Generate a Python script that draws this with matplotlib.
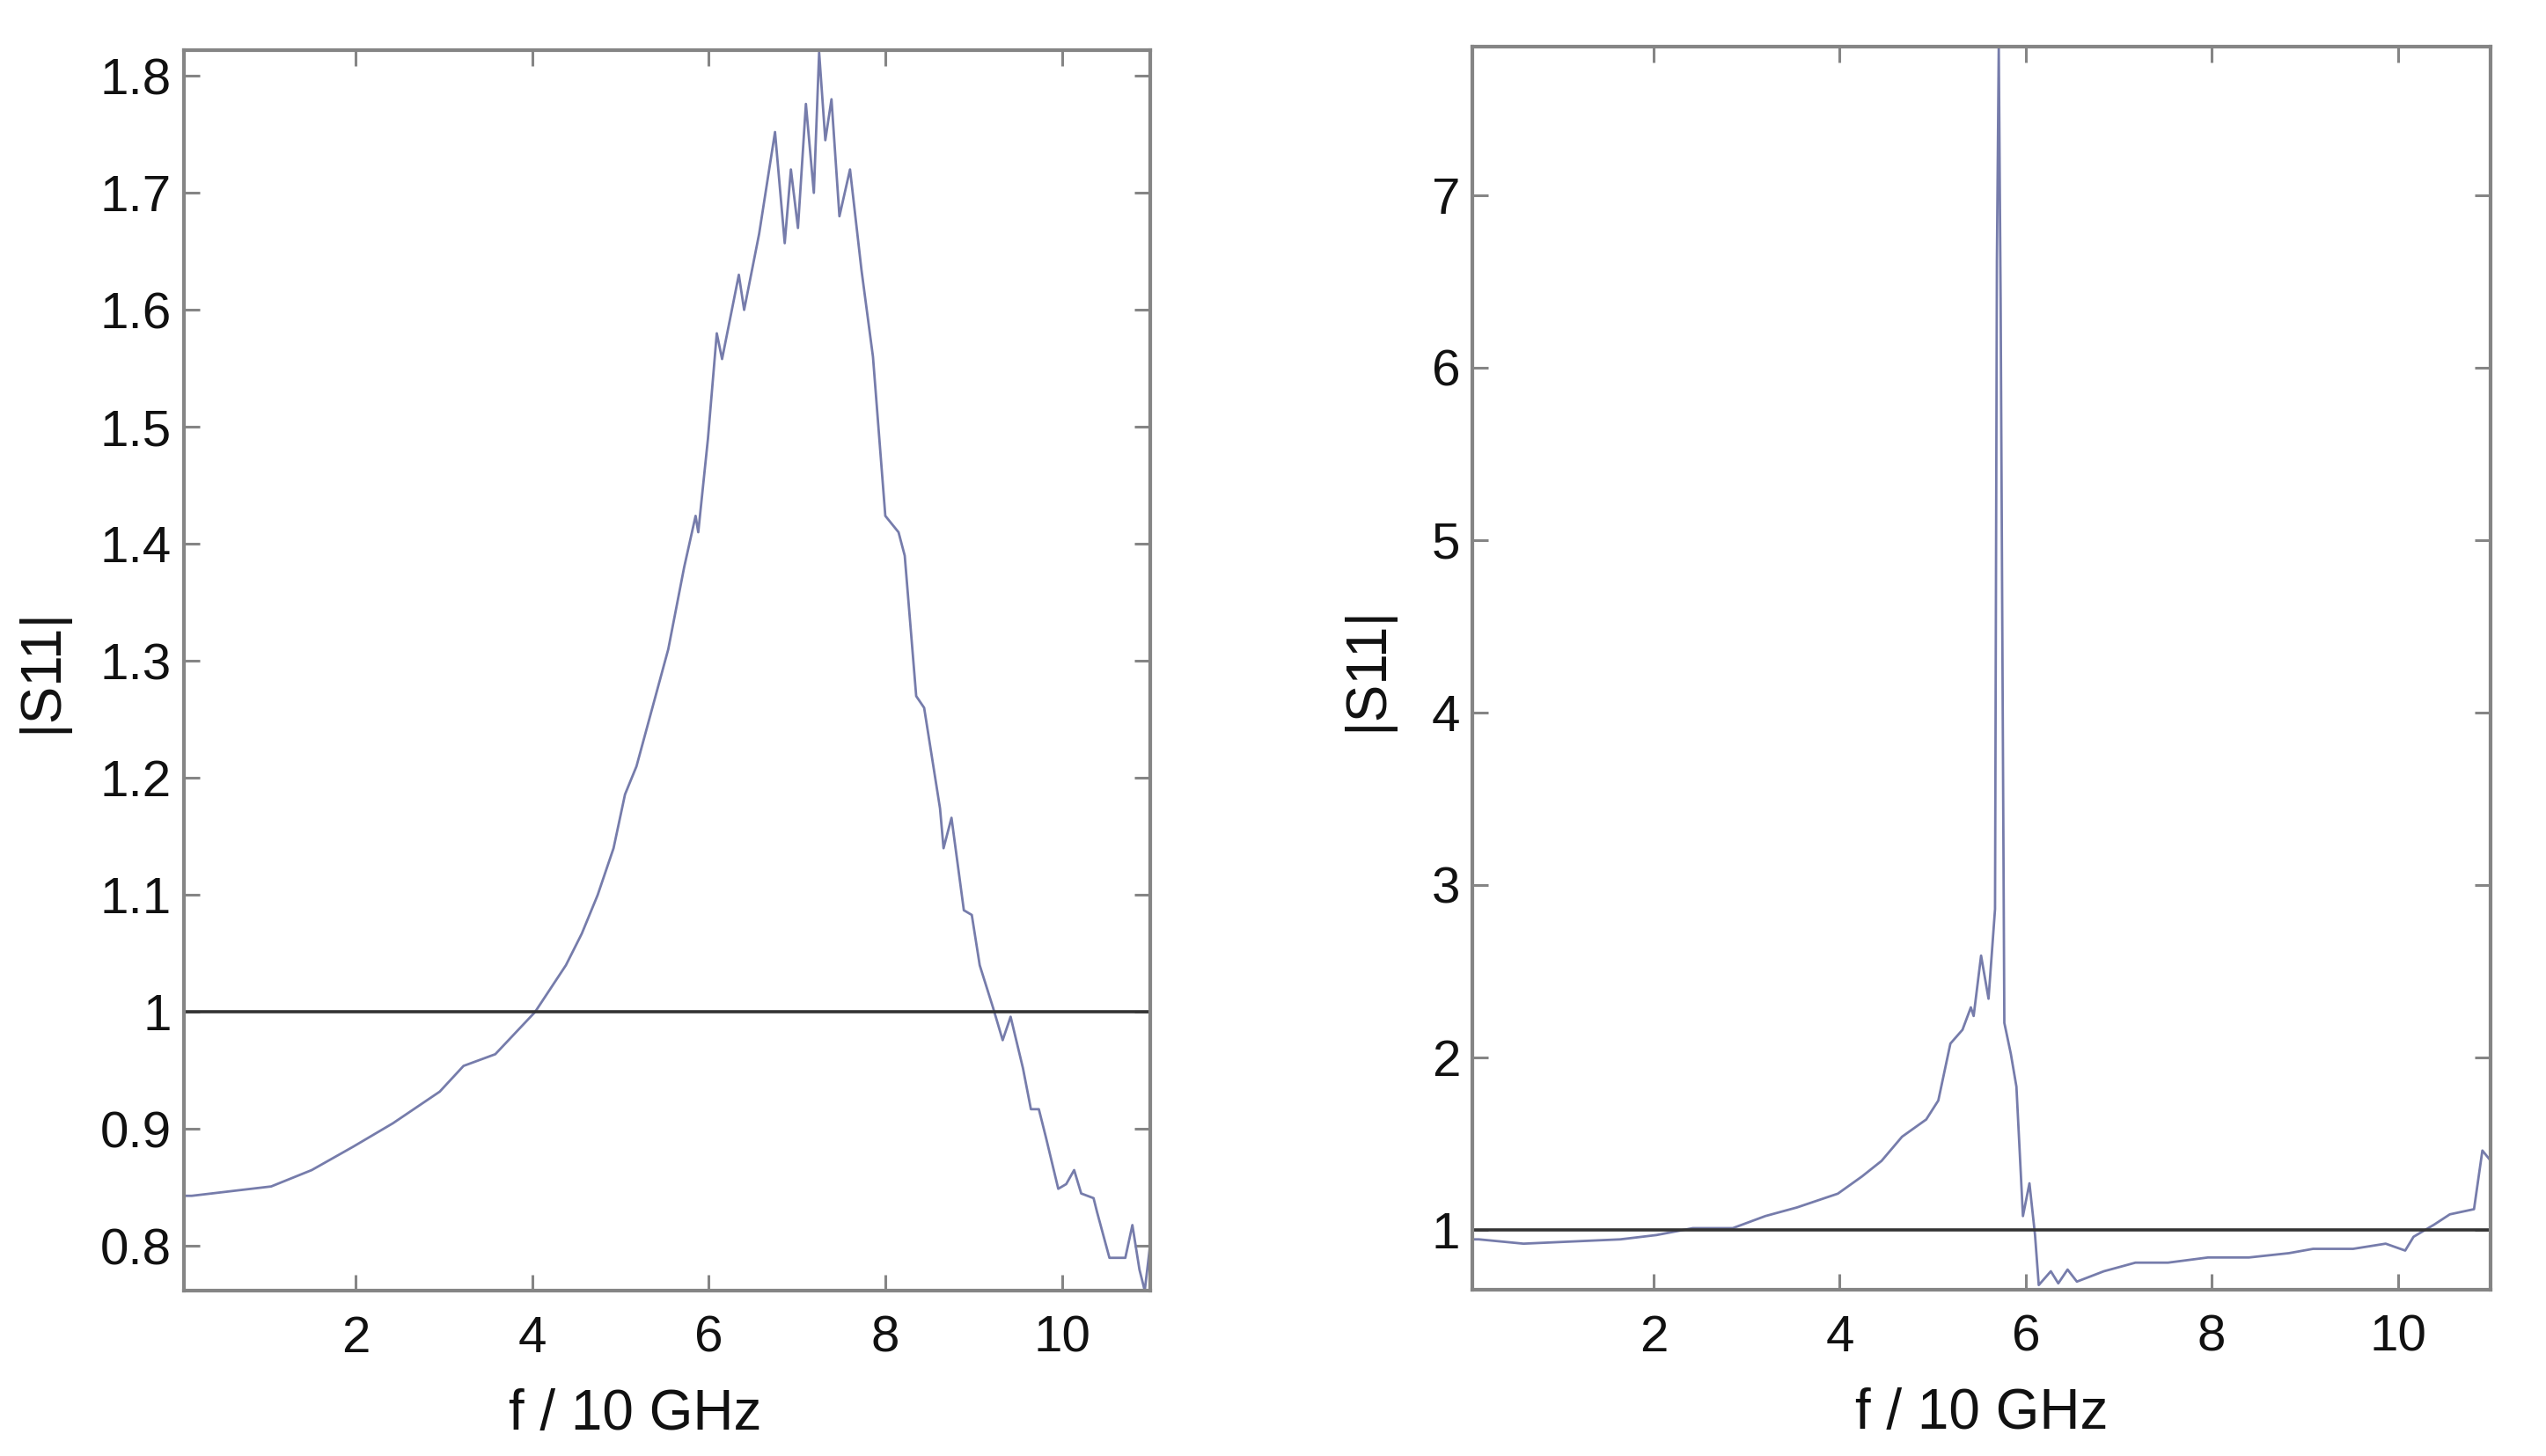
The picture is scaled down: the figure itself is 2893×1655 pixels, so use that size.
import numpy as np
import matplotlib.pyplot as plt
from matplotlib.ticker import FormatStrFormatter

plt.rcParams['font.family'] = ['Liberation Sans', 'DejaVu Sans']

# left panel: |S11| vs f / 10 GHz
f_left = [0.05, 0.14, 1.04, 1.5, 1.97, 2.42, 2.95, 3.22, 3.58, 4.03, 4.38, 4.56,
          4.74, 4.92, 5.05, 5.18, 5.36, 5.54, 5.72, 5.85, 5.88, 5.99, 6.09, 6.15,
          6.34, 6.40, 6.57, 6.75, 6.86, 6.93, 7.01, 7.10, 7.19, 7.25, 7.32, 7.39,
          7.48, 7.60, 7.73, 7.86, 8.00, 8.15, 8.22, 8.35, 8.44, 8.62, 8.66, 8.75,
          8.89, 8.98, 9.07, 9.22, 9.33, 9.42, 9.56, 9.65, 9.74, 9.82, 9.96, 10.05,
          10.14, 10.22, 10.36, 10.40, 10.54, 10.72, 10.80, 10.88, 10.94, 11.0]
s_left = [0.843, 0.843, 0.851, 0.865, 0.885, 0.905, 0.932, 0.954, 0.964, 1.0, 1.04, 1.067,
          1.10, 1.14, 1.186, 1.21, 1.26, 1.31, 1.38, 1.424, 1.41, 1.49, 1.58, 1.558,
          1.63, 1.60, 1.665, 1.752, 1.657, 1.72, 1.67, 1.776, 1.70, 1.82, 1.745, 1.78,
          1.68, 1.72, 1.634, 1.56, 1.424, 1.41, 1.39, 1.27, 1.26, 1.174, 1.14, 1.166,
          1.087, 1.083, 1.04, 1.004, 0.976, 0.996, 0.952, 0.917, 0.917, 0.893, 0.849, 0.853,
          0.865, 0.845, 0.841, 0.829, 0.79, 0.79, 0.818, 0.78, 0.762, 0.80]

# right panel
f_right = [0.05, 0.12, 0.6, 1.64, 2.03, 2.42, 2.85, 3.2, 3.54, 3.98, 4.24, 4.45,
           4.67, 4.93, 5.06, 5.19, 5.32, 5.41, 5.44, 5.52, 5.60, 5.67, 5.69, 5.71,
           5.73, 5.77, 5.84, 5.90, 5.97, 6.04, 6.10, 6.14, 6.27, 6.35, 6.45, 6.55,
           6.84, 7.18, 7.53, 7.96, 8.4, 8.83, 9.09, 9.52, 9.87, 10.08, 10.17, 10.39,
           10.56, 10.82, 10.91, 11.0]
s_right = [0.945, 0.945, 0.92, 0.945, 0.97, 1.01, 1.01, 1.08, 1.13, 1.21, 1.31, 1.40,
           1.54, 1.64, 1.75, 2.08, 2.16, 2.29, 2.24, 2.59, 2.34, 2.86, 6.62, 7.86,
           6.40, 2.20, 2.02, 1.83, 1.08, 1.27, 0.97, 0.68, 0.76, 0.69, 0.77, 0.70,
           0.76, 0.81, 0.81, 0.84, 0.84, 0.865, 0.89, 0.89, 0.92, 0.88, 0.96, 1.03,
           1.09, 1.12, 1.46, 1.40]

yticks_left = [0.8, 0.9, 1.0, 1.1, 1.2, 1.3, 1.4, 1.5, 1.6, 1.7, 1.8]
yticks_right = [1, 2, 3, 4, 5, 6, 7]
xticks = [2, 4, 6, 8, 10]

curve_color = '#767cab'
ref_color = '#333333'
spine_color = '#858585'

fig = plt.figure(figsize=(28.93, 16.55), dpi=100)
ax1 = fig.add_axes([0.0722, 0.1136, 0.3795, 0.852])
ax2 = fig.add_axes([0.5783, 0.1142, 0.400, 0.8538])

panels = [(ax1, f_left, s_left, yticks_left, (0.762, 1.822), 0.467, 26),
          (ax2, f_right, s_right, yticks_right, (0.653, 7.86), 0.50, 31)]

for ax, f, s, yt, yl, xlab_x, ypad in panels:
    ax.plot(f, s, color=curve_color, linewidth=2.0)
    ax.axhline(1.0, color=ref_color, linewidth=2.6)
    ax.set_xlim(0.05, 11)
    ax.set_ylim(*yl)
    ax.set_xticks(xticks)
    ax.set_yticks(yt)
    ax.yaxis.set_major_formatter(FormatStrFormatter('%g'))
    ax.tick_params(direction='in', length=13, width=2.2, color=spine_color,
                   top=True, right=True, labelsize=42, labelcolor='#111111')
    ax.tick_params(axis='x', pad=20)
    ax.tick_params(axis='y', pad=10)
    for sp in ax.spines.values():
        sp.set_color(spine_color)
        sp.set_linewidth(3.0)
    ax.set_xlabel('f / 10 GHz', fontsize=46, color='#111111', labelpad=21, x=xlab_x)
    ax.set_ylabel('|S11|', fontsize=46, color='#111111', labelpad=ypad)

fig.savefig('out.png', dpi=100)
